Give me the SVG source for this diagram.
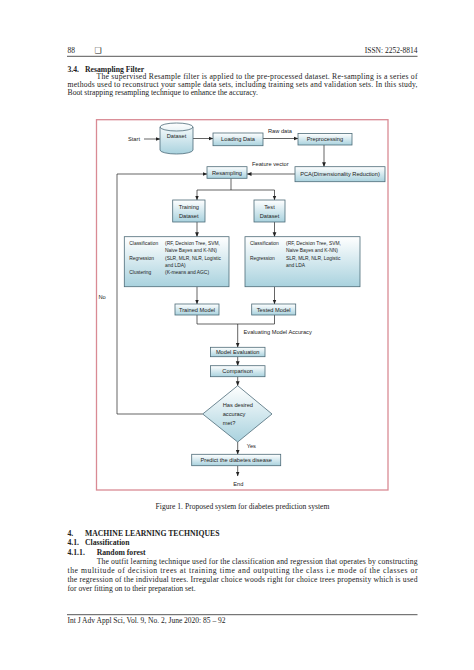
<svg xmlns="http://www.w3.org/2000/svg" width="474" height="670" viewBox="0 0 474 670">
<defs>
<linearGradient id="bx" x1="0" y1="0" x2="0" y2="1">
<stop offset="0" stop-color="#ffffff"/>
<stop offset="1" stop-color="#a9d2de"/>
</linearGradient>
<marker id="ah" markerWidth="5" markerHeight="5" refX="4.5" refY="2.5" orient="auto" markerUnits="userSpaceOnUse">
<path d="M0,0.6 L4.8,2.5 L0,4.4 Z" fill="#222"/>
</marker>
</defs>
<style>
.pg{font-family:"Liberation Serif","Times New Roman",serif;font-size:7.7px;fill:#222}
.b{font-weight:bold}
.d{font-family:"Liberation Sans",Arial,sans-serif;font-size:5.7px;fill:#222}
.s{font-family:"Liberation Sans",Arial,sans-serif;font-size:4.9px;fill:#222}
.box{fill:url(#bx);stroke:#4d6b78;stroke-width:0.8}
.c{fill:none;stroke:#222;stroke-width:0.7}
.ca{fill:none;stroke:#222;stroke-width:0.7;marker-end:url(#ah)}
.m{text-anchor:middle}
</style>
<rect width="474" height="670" fill="#ffffff"/>

<!-- page header -->
<text class="pg" x="67.5" y="52.5" style="font-size:7.5px">88</text>
<text x="94.5" y="53.3" style="font-family:'DejaVu Sans',sans-serif;font-size:8px;fill:#222">❑</text>
<text class="pg" x="417.5" y="52.5" text-anchor="end" style="font-size:7.5px">ISSN: 2252-8814</text>
<line x1="67" y1="56.3" x2="417.5" y2="56.3" stroke="#444" stroke-width="0.9"/>

<text class="pg b" x="67.5" y="71.5">3.4.</text>
<text class="pg b" x="85" y="71.5">Resampling Filter</text>
<text class="pg" x="96.5" y="79.2" textLength="321" lengthAdjust="spacing">The supervised Resample filter is applied to the pre-processed dataset. Re-sampling is a series of</text>
<text class="pg" x="67.5" y="86.9" textLength="350" lengthAdjust="spacing">methods used to reconstruct your sample data sets, including training sets and validation sets. In this study,</text>
<text class="pg" x="67.5" y="94.6">Boot strapping resampling technique to enhance the accuracy.</text>

<!-- figure frame -->
<rect x="96.5" y="119.7" width="291.5" height="370.3" fill="none" stroke="#d98a94" stroke-width="1.3"/>

<!-- connectors -->
<g id="connectors">
<line class="ca" x1="144" y1="139" x2="160" y2="139"/>
<line class="ca" x1="193" y1="138.5" x2="213" y2="138.5"/>
<line class="ca" x1="263" y1="138.5" x2="298" y2="138.5"/>
<line class="ca" x1="324" y1="145" x2="324" y2="166.7"/>
<line class="ca" x1="295" y1="174" x2="247" y2="174"/>
<path class="c" d="M231,178.3 V190 M197,190 H274.5"/>
<line class="ca" x1="197" y1="190" x2="197" y2="200"/>
<line class="ca" x1="274.5" y1="190" x2="274.5" y2="200"/>
<line class="ca" x1="197" y1="222" x2="197" y2="236.7"/>
<line class="ca" x1="274.5" y1="222" x2="274.5" y2="236.7"/>
<line class="ca" x1="197" y1="286.7" x2="197" y2="304"/>
<line class="ca" x1="274.5" y1="286.7" x2="274.5" y2="304"/>
<path class="c" d="M197,315 V324 H274.5 V315"/>
<line class="ca" x1="237.7" y1="324" x2="237.7" y2="347.3"/>
<line class="ca" x1="237.7" y1="356.7" x2="237.7" y2="365.7"/>
<line class="ca" x1="237.7" y1="376.7" x2="237.7" y2="385.7"/>
<line class="ca" x1="237.7" y1="442" x2="237.7" y2="454.3"/>
<line class="ca" x1="237.7" y1="465.7" x2="237.7" y2="476"/>
<path class="ca" d="M202.7,414 H117 V174 H207"/>
<text class="d" x="268" y="132.5">Raw data</text>
<text class="d" x="252" y="166">Feature vector</text>
<text class="d" x="243.5" y="334.3">Evaluating Model Accuracy</text>
<text class="d" x="98.5" y="299">No</text>
<text class="d" x="246.7" y="448">Yes</text>
</g>

<g id="start"><text class="d" x="128" y="141">Start</text></g>

<g id="dataset">
<path d="M160,127 A16.5,4 0 0 1 193,127 V150 A16.5,4 0 0 1 160,150 Z" fill="url(#bx)" stroke="#4d6b78" stroke-width="0.8"/>
<path d="M160,127 A16.5,4 0 0 0 193,127" fill="none" stroke="#4d6b78" stroke-width="0.8"/>
<text class="d m" x="176.5" y="137.8">Dataset</text>
</g>

<g id="loading">
<rect class="box" x="213" y="133" width="50" height="12.7"/>
<text class="d m" x="238" y="141.3">Loading Data</text>
</g>

<g id="preprocessing">
<rect class="box" x="298" y="133.5" width="54" height="11.5"/>
<text class="d m" x="325" y="141.3">Preprocessing</text>
</g>

<g id="pca">
<rect class="box" x="295" y="166.7" width="90" height="15"/>
<text class="d m" x="340" y="176.2">PCA(Dimensionality Reduction)</text>
</g>

<g id="resampling">
<rect class="box" x="207" y="166.7" width="40" height="11.6"/>
<text class="d m" x="227" y="174.5">Resampling</text>
</g>

<g id="training">
<rect class="box" x="172.7" y="200" width="32.3" height="22"/>
<text class="d m" x="188.8" y="209.4">Training</text>
<text class="d m" x="188.8" y="218">Dataset</text>
</g>

<g id="test">
<rect class="box" x="254" y="200" width="31" height="22"/>
<text class="d m" x="269.5" y="209.4">Test</text>
<text class="d m" x="269.5" y="218">Dataset</text>
</g>

<g id="trainmethods">
<rect class="box" x="124.3" y="236.7" width="104.7" height="50"/>
<text class="s" x="129.3" y="245.1">Classification</text>
<text class="s" x="165" y="245.1">(RF, Decision Tree, SVM,</text>
<text class="s" x="165" y="252.4">Naive Bayes and K-NN)</text>
<text class="s" x="129.3" y="259.5">Regression</text>
<text class="s" x="165" y="259.5">(SLR, MLR, NLR, Logistic</text>
<text class="s" x="165" y="266.8">and LDA)</text>
<text class="s" x="129.3" y="274.1">Clustering</text>
<text class="s" x="165" y="274.1">(K-means and AGC)</text>
</g>

<g id="testmethods">
<rect class="box" x="245" y="236.7" width="115" height="50"/>
<text class="s" x="250" y="245.1">Classification</text>
<text class="s" x="286" y="245.1">(RF, Decision Tree, SVM,</text>
<text class="s" x="286" y="252.4">Naive Bayes and K-NN)</text>
<text class="s" x="250" y="259.5">Regression</text>
<text class="s" x="286" y="259.5">SLR, MLR, NLR, Logistic</text>
<text class="s" x="286" y="266.8">and LDA</text>
</g>

<g id="trained">
<rect class="box" x="175" y="304" width="44" height="11"/>
<text class="d m" x="197" y="311.5">Trained Model</text>
</g>

<g id="tested">
<rect class="box" x="251.7" y="304" width="44" height="11"/>
<text class="d m" x="273.7" y="311.5">Tested Model</text>
</g>

<g id="modeleval">
<rect class="box" x="210.5" y="347.3" width="54.5" height="9.4"/>
<text class="d m" x="237.7" y="354">Model Evaluation</text>
</g>

<g id="comparison">
<rect class="box" x="210.5" y="365.7" width="54.5" height="11"/>
<text class="d m" x="237.7" y="373.2">Comparison</text>
</g>

<g id="decision">
<path d="M237.7,385.7 L272,414 L237.7,442 L202.7,414 Z" fill="url(#bx)" stroke="#4d6b78" stroke-width="0.8"/>
<text class="d" x="222.7" y="407">Has desired</text>
<text class="d" x="222.7" y="416">accuracy</text>
<text class="d" x="222.7" y="425.3">met?</text>
</g>

<g id="predict">
<rect class="box" x="191.7" y="454.3" width="89" height="11.4"/>
<text class="d m" x="236.2" y="462">Predict the diabetes disease</text>
</g>

<g id="end"><text class="d m" x="238.3" y="486">End</text></g>

<!-- caption and following text -->
<text class="pg m" x="242.5" y="508.5" style="font-size:7.6px">Figure 1. Proposed system for diabetes prediction system</text>

<text class="pg b" x="67.5" y="536">4.</text>
<text class="pg b" x="85" y="536">MACHINE LEARNING TECHNIQUES</text>
<text class="pg b" x="67.5" y="545.3">4.1.</text>
<text class="pg b" x="85" y="545.3">Classification</text>
<text class="pg b" x="67.5" y="554.6">4.1.1.</text>
<text class="pg b" x="96.7" y="554.6">Random forest</text>
<text class="pg" x="96.7" y="563.6" textLength="320.8" lengthAdjust="spacing">The outfit learning technique used for the classification and regression that operates by constructing</text>
<text class="pg" x="67.5" y="572.6" textLength="350" lengthAdjust="spacing">the multitude of decision trees at training time and outputting the class i.e mode of the classes or</text>
<text class="pg" x="67.5" y="581.6" textLength="350" lengthAdjust="spacing">the regression of the individual trees. Irregular choice woods right for choice trees propensity which is used</text>
<text class="pg" x="67.5" y="590.6">for over fitting on to their preparation set.</text>

<line x1="67" y1="614.7" x2="417.5" y2="614.7" stroke="#444" stroke-width="0.9"/>
<text class="pg" x="67.5" y="623.3" style="font-size:7.5px">Int J Adv Appl Sci, Vol. 9, No. 2, June 2020: 85 – 92</text>
</svg>
